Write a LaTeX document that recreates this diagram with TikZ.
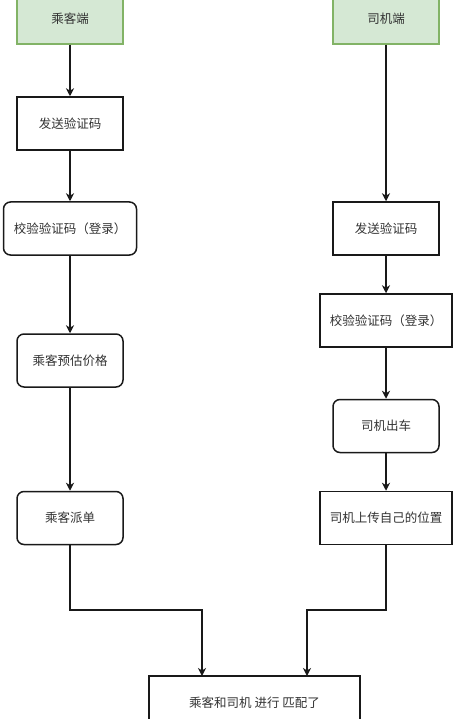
\documentclass[tikz,border=0pt]{standalone}
\usepackage{fontspec}
\setmainfont{Noto Sans CJK SC}
\usetikzlibrary{arrows.meta}
\definecolor{gfill}{HTML}{D5E8D4}
\definecolor{gdraw}{HTML}{82B366}
\definecolor{txt}{HTML}{333333}
\tikzset{
  box/.style={draw=black!90, line width=1.5pt, fill=white, minimum width=#1, minimum height=53pt, inner sep=0pt, font=\fontsize{12.5}{14}\selectfont, text=txt},
  box/.default=106pt,
  rbox/.style={box=#1, rounded corners=7pt},
  rbox/.default=106pt,
  gbox/.style={box, fill=gfill, draw=gdraw, minimum height=50pt},
  conn/.style={draw=black!90, line width=1.5pt, -{Stealth[length=8pt,width=8pt,inset=2.5pt]}},
}
\begin{document}
\begin{tikzpicture}[x=1pt,y=-1pt]
\useasboundingbox (0,0) rectangle (474,719);
\clip (0,0) rectangle (474,719);
% left column
\node[gbox] (p0) at (70,19) {乘客端};
\node[box] (p1) at (70,123.5) {发送验证码};
\node[rbox=133pt] (p2) at (70,228.5) {校验验证码（登录）};
\node[rbox] (p3) at (70,360.5) {乘客预估价格};
\node[rbox] (p4) at (70,518) {乘客派单};
% right column
\node[gbox] (d0) at (386,19) {司机端};
\node[box] (d1) at (386,228.5) {发送验证码};
\node[box=132pt] (d2) at (386,320.5) {校验验证码（登录）};
\node[rbox] (d3) at (386,426) {司机出车};
\node[box=132pt] (d4) at (386,518) {司机上传自己的位置};
% bottom
\node[box=211pt, minimum height=54pt] (m) at (254.5,703) {乘客和司机 进行 匹配了};
\coordinate (ml) at (202,676);
\coordinate (mr) at (307,676);
% connectors
\draw[conn] (p0) -- (p1);
\draw[conn] (p1) -- (p2);
\draw[conn] (p2) -- (p3);
\draw[conn] (p3) -- (p4);
\draw[conn] (d0) -- (d1);
\draw[conn] (d1) -- (d2);
\draw[conn] (d2) -- (d3);
\draw[conn] (d3) -- (d4);
\draw[conn] (p4.south) -- (70,610) -| (ml);
\draw[conn] (d4.south) -- (386,610) -| (mr);
\end{tikzpicture}
\end{document}
